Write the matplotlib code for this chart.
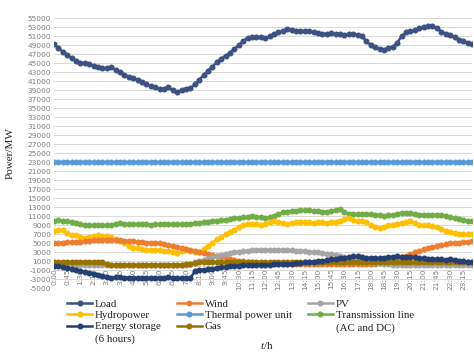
import matplotlib
matplotlib.use("Agg")
import matplotlib.pyplot as plt
from matplotlib.ticker import FixedLocator

plt.rcParams['mathtext.fontset'] = 'custom'
plt.rcParams['mathtext.it'] = 'Liberation Serif:italic'
plt.rcParams['mathtext.rm'] = 'Liberation Serif'

times = [f"{h}:{m:02d}" for h in range(24) for m in (0, 15, 30, 45)]

load = [49200, 48300, 47500, 46700, 46100, 45500, 45100, 44900, 44800, 44400,
        44100, 43900, 43800, 44100, 43500, 42900, 42400, 42000, 41600, 41200,
        40800, 40300, 39900, 39600, 39200, 39300, 39600, 39000, 38600, 39000,
        39300, 39400, 40300, 41300, 42300, 43300, 44200, 45200, 46000, 46600,
        47300, 48100, 49000, 49900, 50600, 50800, 50800, 50700, 50500, 51000,
        51500, 51800, 52200, 52600, 52300, 52200, 52100, 52100, 52100, 51800,
        51600, 51500, 51400, 51600, 51400, 51500, 51200, 51500, 51400, 51300,
        50900, 49800, 49000, 48500, 48100, 48000, 48300, 48600, 49500, 51000,
        51800, 52100, 52300, 52700, 53100, 53200, 53200, 52700, 52000, 51500,
        51200, 50700, 50200, 49800, 49400, 49200]

wind = [4900, 5000, 5100, 5200, 5200, 5200, 5300, 5400, 5500, 5600,
        5600, 5700, 5700, 5600, 5600, 5600, 5500, 5500, 5400, 5300,
        5200, 5100, 5000, 5000, 4900, 4700, 4500, 4300, 4100, 3900,
        3700, 3500, 3300, 3100, 2800, 2600, 2400, 2200, 2000, 1800,
        1500, 1300, 1100, 900, 800, 700, 600, 500, 500, 400,
        400, 400, 350, 350, 300, 300, 300, 300, 300, 300,
        300, 300, 300, 300, 300, 300, 300, 300, 300, 300,
        300, 350, 350, 400, 500, 700, 900, 1200, 1500, 1800,
        2200, 2600, 2900, 3200, 3600, 3900, 4200, 4400, 4600, 4800,
        4900, 5000, 5100, 5200, 5300, 5400]

pv = [150, 150, 150, 150, 150, 150, 150, 150, 150, 150,
      150, 150, 150, 150, 150, 150, 150, 150, 150, 150,
      150, 150, 150, 150, 150, 150, 150, 150, 150, 150,
      200, 400, 700, 1000, 1300, 1600, 1900, 2200, 2400, 2600,
      2800, 3000, 3100, 3200, 3300, 3400, 3500, 3500, 3500, 3500,
      3500, 3500, 3500, 3400, 3400, 3300, 3300, 3200, 3100, 3000,
      2900, 2800, 2600, 2500, 2300, 2100, 1900, 1700, 1500, 1300,
      1100, 900, 700, 600, 500, 400, 300, 200, 200, 200,
      200, 200, 200, 200, 200, 200, 200, 200, 200, 200,
      200, 200, 200, 200, 200, 200]

hydro = [7600, 7900, 7800, 7200, 6800, 6700, 6400, 6200, 6300, 6600,
         6700, 6600, 6500, 6300, 5900, 5400, 4900, 4400, 4000, 3800,
         3600, 3500, 3400, 3500, 3400, 3300, 3200, 2900, 2800, 3200,
         3500, 3300, 3100, 3000, 3600, 4400, 5100, 5800, 6400, 6900,
         7500, 8000, 8600, 9000, 9300, 9300, 9200, 9100, 9300, 9600,
         10000, 9700, 9500, 9300, 9400, 9600, 9700, 9700, 9600, 9500,
         9700, 9600, 9500, 9600, 9700, 9900, 10300, 10600, 10200, 9900,
         10000, 9700, 8900, 8500, 8400, 8500, 8900, 9100, 9300, 9500,
         9700, 9800, 9500, 9100, 8900, 8900, 8800, 8500, 8100, 7700,
         7400, 7300, 7100, 7000, 6900, 6900]

thermal = [23000] * 96

transmission = [10000, 10050, 10000, 9800, 9600, 9400, 9200, 9000, 8900, 9000,
                9100, 9000, 8950, 9100, 9300, 9500, 9300, 9200, 9200, 9200,
                9150, 9150, 9100, 9150, 9200, 9150, 9150, 9200, 9200, 9200,
                9150, 9300, 9400, 9500, 9600, 9700, 9900, 10000, 10100, 10200,
                10300, 10500, 10600, 10700, 10800, 10900, 10800, 10700, 10600, 10700,
                11000, 11400, 11800, 12000, 12100, 12200, 12300, 12300, 12300, 12200,
                12100, 12000, 12000, 12200, 12300, 12500, 12000, 11500, 11500, 11400,
                11400, 11400, 11400, 11300, 11200, 11100, 11150, 11300, 11500, 11700,
                11750, 11600, 11400, 11300, 11300, 11200, 11300, 11300, 11200, 11000,
                10800, 10600, 10400, 10200, 10000, 9900]

storage = [0, -200, -400, -600, -800, -1000, -1200, -1400, -1600, -1800,
           -2000, -2300, -2600, -2700, -2600, -2600, -2700, -2700, -2750, -2700,
           -2700, -2750, -2700, -2700, -2750, -2700, -2650, -2700, -2750, -2700,
           -2700, -2750, -1300, -1100, -900, -800, -700, -500, -400, -300,
           -200, -100, 0, 50, 50, 100, 100, 100, 100, 200,
           300, 400, 300, 300, 400, 500, 600, 700, 800, 850,
           900, 1000, 1300, 1400, 1500, 1600, 1700, 1900, 2100, 2100,
           1900, 1700, 1700, 1700, 1600, 1700, 1800, 2000, 2100, 2000,
           1900, 1900, 1800, 1700, 1600, 1500, 1500, 1400, 1400, 1300,
           1400, 1200, 1100, 900, 800, 700]

gas = [800, 800, 800, 800, 800, 800, 800, 800, 800, 800,
       800, 700, 300, 200, 200, 150, 150, 150, 150, 150,
       150, 150, 150, 150, 150, 150, 150, 150, 150, 200,
       300, 400, 600, 700, 800, 800, 800, 800, 800, 800,
       800, 800, 800, 800, 800, 800, 800, 800, 800, 800,
       800, 800, 800, 800, 800, 800, 800, 800, 800, 800,
       800, 800, 800, 800, 800, 800, 800, 800, 800, 800,
       800, 800, 800, 800, 800, 800, 800, 800, 800, 800,
       800, 800, 800, 800, 800, 800, 800, 800, 800, 800,
       800, 800, 800, 800, 800, 800]

y_ticks = list(range(-5000, 55001, 2000))

fig = plt.figure(figsize=(4.74, 3.53), dpi=100)
ax = fig.add_axes([0.114, 0.184, 0.882, 0.765])

for s in ax.spines.values():
    s.set_visible(False)
ax.spines['bottom'].set_position(('data', 0))
ax.spines['bottom'].set_visible(True)
ax.spines['bottom'].set_color('#D9D9D9')
ax.spines['bottom'].set_linewidth(0.7)

x = list(range(len(times)))
series = [
    ("Load", load, "#3B5283"),
    ("Hydropower", hydro, "#FFC000"),
    ("Energy storage", storage, "#243F73"),
    ("Wind", wind, "#ED7D31"),
    ("Thermal power unit", thermal, "#5B9BD5"),
    ("Gas", gas, "#997300"),
    ("PV", pv, "#A5A5A5"),
    ("Transmission line", transmission, "#70AD47"),
]
draw_order = ["Thermal power unit", "Transmission line", "Hydropower", "Wind",
              "PV", "Gas", "Energy storage", "Load"]
handles = []
for name, vals, col in series:
    z = 3 + draw_order.index(name)
    h, = ax.plot(x, vals, color=col, lw=1.8, marker='o', ms=3.3, mec=col, mfc=col,
                 label=name, zorder=z)
    handles.append(h)

ax.set_xlim(0, 95)
ax.set_ylim(-5000, 55000)
ax.yaxis.set_major_locator(FixedLocator(y_ticks))
ax.set_yticklabels([str(v) for v in y_ticks])
ax.set_xticks(x[::3])
ax.set_xticklabels(times[::3], rotation=90)
ax.tick_params(axis='both', length=0, labelsize=5.3, colors='#808080', pad=2)
ax.grid(axis='y', color='#D9D9D9', lw=0.7)
ax.set_axisbelow(True)

fig.text(0.022, 0.567, "Power/MW", rotation=90, family='Liberation Serif', fontsize=8,
         ha='center', va='center', color='#222222')
fig.text(0.563, 0.022, r"$t$/h", family='Liberation Serif', fontsize=8,
         ha='center', va='center', color='#222222')

leg = fig.legend(handles, [n for n, _, _ in series], ncol=3, loc='upper left',
                 bbox_to_anchor=(0.142, 0.152), frameon=False,
                 prop={'family': 'Liberation Serif', 'size': 7.8},
                 handlelength=2.3, handletextpad=0.25, columnspacing=1.5,
                 labelspacing=0.15, borderaxespad=0, borderpad=0)

fig.canvas.draw()
inv = fig.transFigure.inverted()
for t in leg.get_texts():
    t.set_color('#222222')
    if t.get_text() in ("Energy storage", "Transmission line"):
        bb = t.get_window_extent()
        x0, y0 = inv.transform((bb.x0, bb.y0))
        extra = "(6 hours)" if t.get_text() == "Energy storage" else "(AC and DC)"
        fig.text(x0, y0 - 0.008, extra, family='Liberation Serif', fontsize=7.8,
                 ha='left', va='top', color='#222222')

fig.savefig("out.png", dpi=100)
